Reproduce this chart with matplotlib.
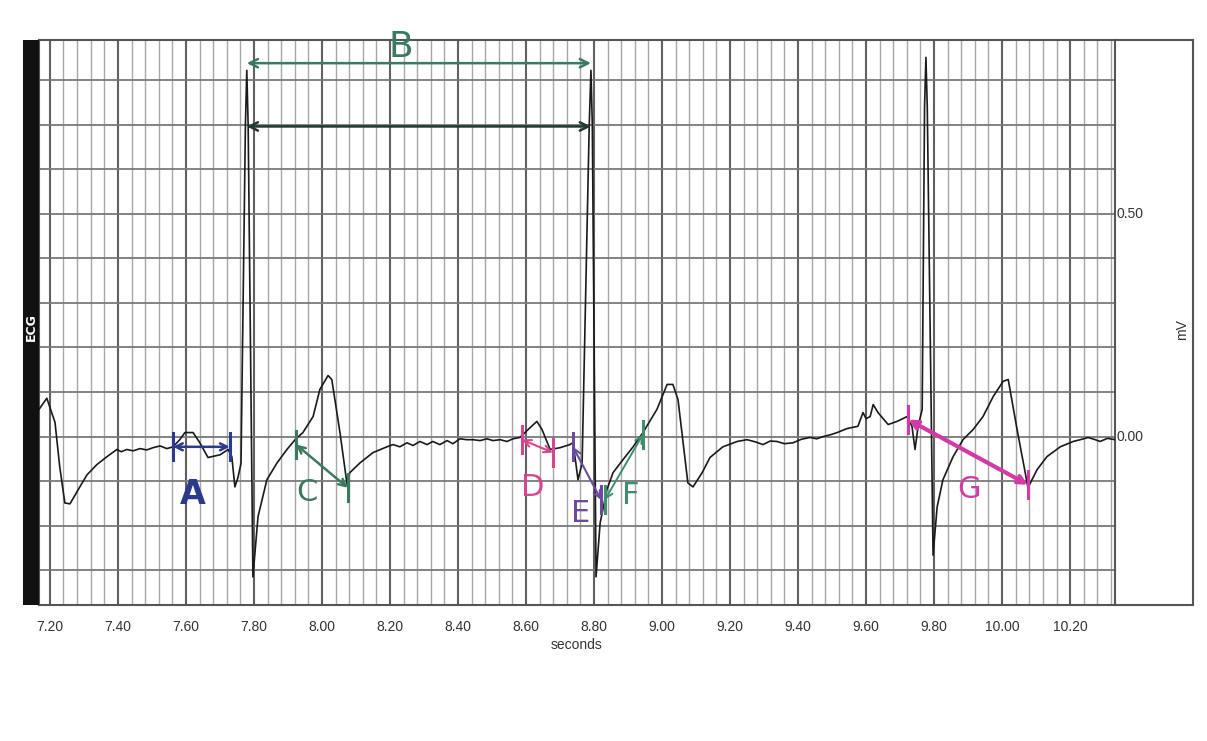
import matplotlib
matplotlib.use("Agg")
import matplotlib.pyplot as plt
from matplotlib.patches import Rectangle
from matplotlib.lines import Line2D
import numpy as np

# ---------------- data (seconds, mV) ----------------
time_s = [7.168, 7.191, 7.215, 7.229, 7.244, 7.259, 7.288, 7.309, 7.338, 7.368,
          7.397, 7.41, 7.426, 7.445, 7.465, 7.485, 7.503, 7.524, 7.544, 7.562,
          7.582, 7.597, 7.621, 7.641, 7.665, 7.700, 7.724, 7.735, 7.744, 7.753,
          7.762, 7.775, 7.779, 7.783, 7.797, 7.812, 7.838, 7.868, 7.897, 7.921,
          7.944, 7.974, 7.994, 8.018, 8.029, 8.053, 8.074, 8.082, 8.112, 8.150,
          8.191, 8.209, 8.229, 8.250, 8.268, 8.288, 8.309, 8.326, 8.347, 8.368,
          8.385, 8.406, 8.426, 8.444, 8.465, 8.485, 8.503, 8.524, 8.544, 8.562,
          8.582, 8.612, 8.632, 8.647, 8.671, 8.700, 8.729, 8.738, 8.744, 8.753,
          8.765, 8.786, 8.791, 8.795, 8.806, 8.818, 8.838, 8.856, 8.885, 8.915,
          8.944, 8.985, 9.015, 9.032, 9.047, 9.062, 9.076, 9.091, 9.118, 9.141,
          9.179, 9.221, 9.250, 9.275, 9.297, 9.318, 9.338, 9.360, 9.385, 9.410,
          9.435, 9.455, 9.474, 9.495, 9.515, 9.544, 9.576, 9.591, 9.600, 9.612,
          9.621, 9.635, 9.665, 9.691, 9.721, 9.735, 9.744, 9.753, 9.765, 9.772,
          9.776, 9.780, 9.797, 9.809, 9.826, 9.856, 9.885, 9.915, 9.944, 9.974,
          10.003, 10.018, 10.044, 10.068, 10.076, 10.103, 10.132, 10.171, 10.209, 10.235,
          10.253, 10.274, 10.288, 10.310, 10.332]
ecg_mV = [0.061, 0.086, 0.032, -0.068, -0.149, -0.151, -0.113, -0.086, -0.063, -0.045,
          -0.029, -0.034, -0.029, -0.032, -0.027, -0.030, -0.025, -0.021, -0.027, -0.023,
          -0.007, 0.009, 0.009, -0.014, -0.047, -0.041, -0.029, -0.045, -0.113, -0.092,
          -0.060, 0.700, 0.822, 0.700, -0.315, -0.180, -0.097, -0.059, -0.029, -0.007,
          0.009, 0.045, 0.106, 0.137, 0.128, 0.009, -0.108, -0.081, -0.059, -0.036,
          -0.023, -0.018, -0.023, -0.014, -0.020, -0.011, -0.018, -0.011, -0.018, -0.009,
          -0.016, -0.005, -0.007, -0.007, -0.009, -0.005, -0.009, -0.007, -0.011, -0.005,
          -0.002, 0.020, 0.034, 0.016, -0.029, -0.025, -0.018, -0.014, -0.045, -0.097,
          -0.060, 0.700, 0.822, 0.700, -0.315, -0.194, -0.119, -0.081, -0.052, -0.023,
          0.009, 0.061, 0.117, 0.117, 0.083, -0.014, -0.104, -0.113, -0.081, -0.047,
          -0.023, -0.011, -0.007, -0.012, -0.018, -0.010, -0.011, -0.016, -0.014, -0.006,
          -0.002, -0.005, 0.000, 0.004, 0.009, 0.018, 0.023, 0.054, 0.040, 0.045,
          0.072, 0.054, 0.027, 0.034, 0.045, 0.023, -0.029, 0.023, 0.061, 0.740,
          0.851, 0.740, -0.266, -0.158, -0.097, -0.045, -0.007, 0.016, 0.045, 0.090,
          0.124, 0.128, 0.016, -0.081, -0.115, -0.074, -0.045, -0.023, -0.011, -0.006,
          -0.002, -0.007, -0.011, -0.004, -0.007]

x_ticks = [7.20, 7.40, 7.60, 7.80, 8.00, 8.20, 8.40, 8.60, 8.80, 9.00,
           9.20, 9.40, 9.60, 9.80, 10.00, 10.20]
y_ticks = [0.00, 0.50]

# Interval annotations (start t, start mV, end t, end mV, label t, label mV)
ann_names = ['A', 'C', 'D', 'E', 'F', 'G']
ann_t0 = [7.562, 7.924, 8.588, 8.738, 8.832, 9.724]
ann_v0 = [-0.023, -0.018, -0.007, -0.023, -0.142, 0.038]
ann_t1 = [7.729, 8.076, 8.679, 8.821, 8.944, 10.076]
ann_v1 = [-0.023, -0.115, -0.036, -0.142, 0.005, -0.108]
lbl_t = [7.621, 7.956, 8.621, 8.762, 8.909, 9.903]
lbl_v = [-0.131, -0.126, -0.115, -0.173, -0.133, -0.119]

# RR interval (B)
rr_t0, rr_t1 = 7.779, 8.791
rr_upper_mV, rr_lower_mV = 0.838, 0.696
rr_label_t, rr_label_mV = 8.232, 0.875

# ---------------- figure ----------------
W, H = 1207, 741
fig = plt.figure(figsize=(W / 100, H / 100), dpi=100)
fig.patch.set_facecolor('white')

L, R, T, B_ = 39, 1115, 40, 605
ax = fig.add_axes([L / W, 1 - B_ / H, (R - L) / W, (B_ - T) / H])
xmin, xmax = 7.168, 10.332
ymin, ymax = -0.378, 0.89
ax.set_xlim(xmin, xmax)
ax.set_ylim(ymin, ymax)

tick_font = ['Liberation Sans Narrow', 'Liberation Sans', 'DejaVu Sans']

# grid
for v in np.arange(7.20, 10.33, 0.04):
    major = abs(round(v / 0.2) * 0.2 - v) < 1e-6
    ax.axvline(v, color='#606060' if major else '#a8a8a8',
               lw=1.5 if major else 1.0, zorder=1)
for v in np.arange(-0.3, 0.9, 0.1):
    ax.axhline(v, color='#7a7a7a', lw=1.3, zorder=1)

ax.plot(time_s, ecg_mV, color='#1a1a1a', lw=1.2, zorder=3)

for s in ax.spines.values():
    s.set_color('#555555')
    s.set_linewidth(1.5)

ax.set_xticks(x_ticks)
ax.set_xticklabels([f'{v:.2f}' for v in x_ticks], family=tick_font, fontsize=10,
                   color='#333333')
ax.tick_params(axis='x', length=0, pad=11)
ax.yaxis.tick_right()
ax.set_yticks(y_ticks)
ax.set_yticklabels([f'{v:.2f}' for v in y_ticks], family=tick_font, fontsize=10,
                   color='#333333', va='center')
ax.tick_params(axis='y', length=0, pad=1)
ax.set_xlabel('seconds', family=tick_font, fontsize=10, color='#333333', labelpad=3)

# black bar with ECG label
fig.patches.append(Rectangle((23 / W, 1 - B_ / H), (L - 23) / W, (B_ - T) / H,
                             transform=fig.transFigure, facecolor='#111111',
                             edgecolor='none', zorder=5))
fig.text(31 / W, 1 - 327 / H, 'ECG', rotation=90, color='white', fontsize=9,
         fontweight='bold', ha='center', va='center', zorder=6)

# right unit box
for (x0, y0, x1, y1) in [(R, T, 1193, T), (R, B_, 1193, B_), (1193, T, 1193, B_)]:
    fig.lines.append(Line2D([x0 / W, x1 / W], [1 - y0 / H, 1 - y1 / H],
                            transform=fig.transFigure, color='#555555', lw=1.5))
fig.text(1182 / W, 1 - 330 / H, 'mV', rotation=90, fontsize=10, color='#333333',
         ha='center', va='center', family=tick_font)

# ---------------- annotations ----------------
ann_colors = ['#2b3a8c', '#3b7a5e', '#d6468e', '#6a4a9e', '#3f8f6e', '#d23aa6']
ann_lw = [1.8, 1.8, 1.5, 1.5, 1.4, 3.0]
ann_fs = [24, 22, 22, 22, 22, 22]
tick_half = 0.03
for name, t0, v0, t1, v1, lt, lv, c, lw, fs in zip(ann_names, ann_t0, ann_v0, ann_t1,
                                                   ann_v1, lbl_t, lbl_v, ann_colors,
                                                   ann_lw, ann_fs):
    ax.annotate('', xy=(t1, v1), xytext=(t0, v0),
                arrowprops=dict(arrowstyle='<->,head_length=0.5,head_width=0.25',
                                color=c, lw=lw, shrinkA=0, shrinkB=0), zorder=4)
    for (tt, vv) in [(t0, v0), (t1, v1)]:
        ax.plot([tt, tt], [vv - tick_half, vv + tick_half], color=c, lw=2.2, zorder=4)
    ax.text(lt, lv, name, color=c, fontsize=fs, ha='center', va='center',
            fontweight='bold' if name == 'A' else 'normal', zorder=4,
            family=['Liberation Sans Narrow', 'DejaVu Sans'])

# B arrows
ax.annotate('', xy=(rr_t1, rr_upper_mV), xytext=(rr_t0, rr_upper_mV),
            arrowprops=dict(arrowstyle='<->,head_length=0.6,head_width=0.3',
                            color='#3a7a60', lw=1.8, shrinkA=0, shrinkB=0), zorder=4)
ax.annotate('', xy=(rr_t1, rr_lower_mV), xytext=(rr_t0, rr_lower_mV),
            arrowprops=dict(arrowstyle='<->,head_length=0.6,head_width=0.3',
                            color='#1f3a2e', lw=1.8, shrinkA=0, shrinkB=0), zorder=4)
ax.text(rr_label_t, rr_label_mV, 'B', color='#3a7a60', fontsize=26, ha='center',
        va='center', clip_on=False, zorder=4, family=['Liberation Sans Narrow', 'DejaVu Sans'])

fig.savefig('out.png', dpi=100, facecolor='white')
